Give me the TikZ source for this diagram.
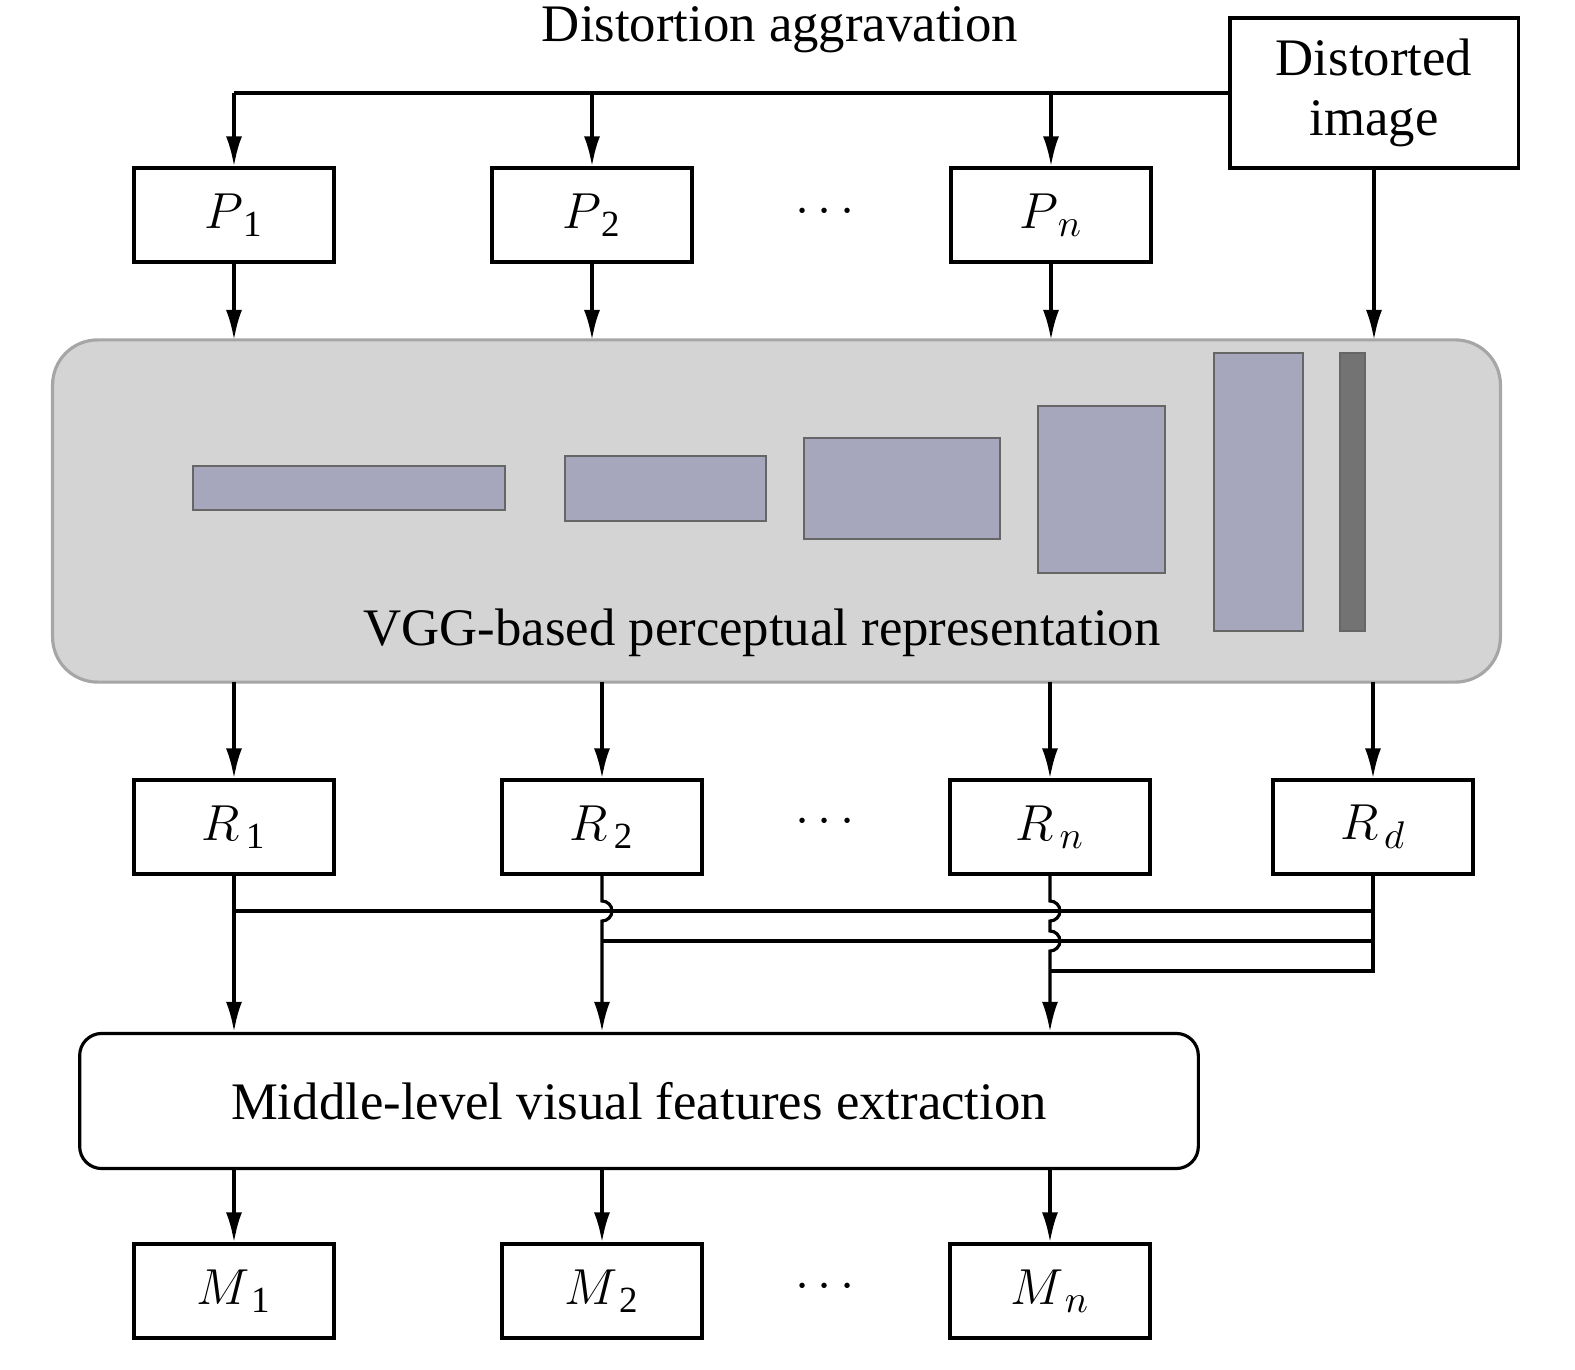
\documentclass[tikz,border=0pt]{standalone}
\usepackage{fontspec}
\setmainfont{Liberation Serif}
\usetikzlibrary{arrows.meta}
\begin{document}
\begin{tikzpicture}[x=0.01cm,y=-0.01cm,line width=0.9pt,
    >={Latex[length=3mm,width=1.6mm]},
    box/.style={draw,minimum width=2cm,minimum height=0.94cm,inner sep=0pt,font=\fontsize{15}{17}\selectfont},
    feat/.style={draw=black!60,fill=blue!25!black!35!white,line width=0.6pt},
    txt/.style={font=\fontsize{15}{17}\selectfont}]
    \useasboundingbox (0,0) rectangle (1575,1370);
    \newcommand{\sub}[2]{$#1_{\,\mathrm{#2}}$}
    % top row
    \node[txt] (title) at (780,30) {Distortion aggravation};
    \node[box,minimum width=2.88cm,minimum height=1.5cm,align=center] (dist) at (1374,93) {Distorted\\image};
    \node[box] (p1) at (234,215) {\sub{P}{1}};
    \node[box] (p2) at (592,215) {\sub{P}{2}};
    \node[box] (pn) at (1051,215) {$P_{\,n}$};
    \node[txt] (pdots) at (825,212) {$\cdots$};
    \coordinate (t1) at (234,93);
    \draw (dist.west) -- (t1);
    \draw[->] (t1) -- (p1.north);
    \draw[->] (592,93) -- (p2.north);
    \draw[->] (1051,93) -- (pn.north);
    % VGG block
    \node[draw=black!35,fill=black!17,rounded corners=0.45cm,minimum width=14.47cm,minimum height=3.42cm] (vgg) at (776.5,511) {};
    \fill[feat] (193,466) rectangle (505,510);
    \fill[feat] (565,456) rectangle (766,521);
    \fill[feat] (804,438) rectangle (1000,539);
    \fill[feat] (1038,406) rectangle (1165,573);
    \fill[feat] (1214,353) rectangle (1303,631);
    \fill[draw=black!60,fill=black!55,line width=0.6pt] (1340,353) rectangle (1365,631);
    \node[txt] (vggl) at (762,633) {VGG-based perceptual representation};
    \draw[->] (p1.south) -- (234,340);
    \draw[->] (p2.south) -- (592,340);
    \draw[->] (pn.south) -- (1051,340);
    \draw[->] (dist.south) -- (1374,340);
    % R row
    \node[box] (r1) at (234,827) {\sub{R}{1}};
    \node[box] (r2) at (602,827) {\sub{R}{2}};
    \node[box] (rn) at (1050,827) {$R_{\,n}$};
    \node[box] (rd) at (1373,827) {$R_{\,d}$};
    \node[txt] (rdots) at (825,822) {$\cdots$};
    \draw[->] (234,682) -- (r1.north);
    \draw[->] (602,682) -- (r2.north);
    \draw[->] (1050,682) -- (rn.north);
    \draw[->] (1373,682) -- (rd.north);
    % middle-level block
    \node[draw,rounded corners=0.22cm,minimum width=11.18cm,minimum height=1.35cm,txt] (mid) at (639,1101) {Middle-level visual features extraction};
    \draw (234,911) -- (1373,911);
    \draw (602,941) -- (1373,941);
    \draw (1050,971) -- (1373,971) -- (rd.south);
    \draw[->] (r1.south) -- (r1.south |- mid.north);
    \draw[->] (r2.south) -- (602,901) arc[start angle=90,end angle=-90,radius=0.1cm] -- (r2.south |- mid.north);
    \draw[->] (rn.south) -- (1050,901) arc[start angle=90,end angle=-90,radius=0.1cm]
        -- (1050,931) arc[start angle=90,end angle=-90,radius=0.1cm] -- (rn.south |- mid.north);
    % M row
    \node[box] (m1) at (234,1291) {$M_{\,\mathrm{1}}$};
    \node[box] (m2) at (602,1291) {$M_{\,\mathrm{2}}$};
    \node[box] (mn) at (1050,1291) {$M_{\,n}$};
    \node[txt] (mdots) at (825,1287) {$\cdots$};
    \draw[->] (234,1168) -- (m1.north);
    \draw[->] (602,1168) -- (m2.north);
    \draw[->] (1050,1168) -- (mn.north);
\end{tikzpicture}
\end{document}
